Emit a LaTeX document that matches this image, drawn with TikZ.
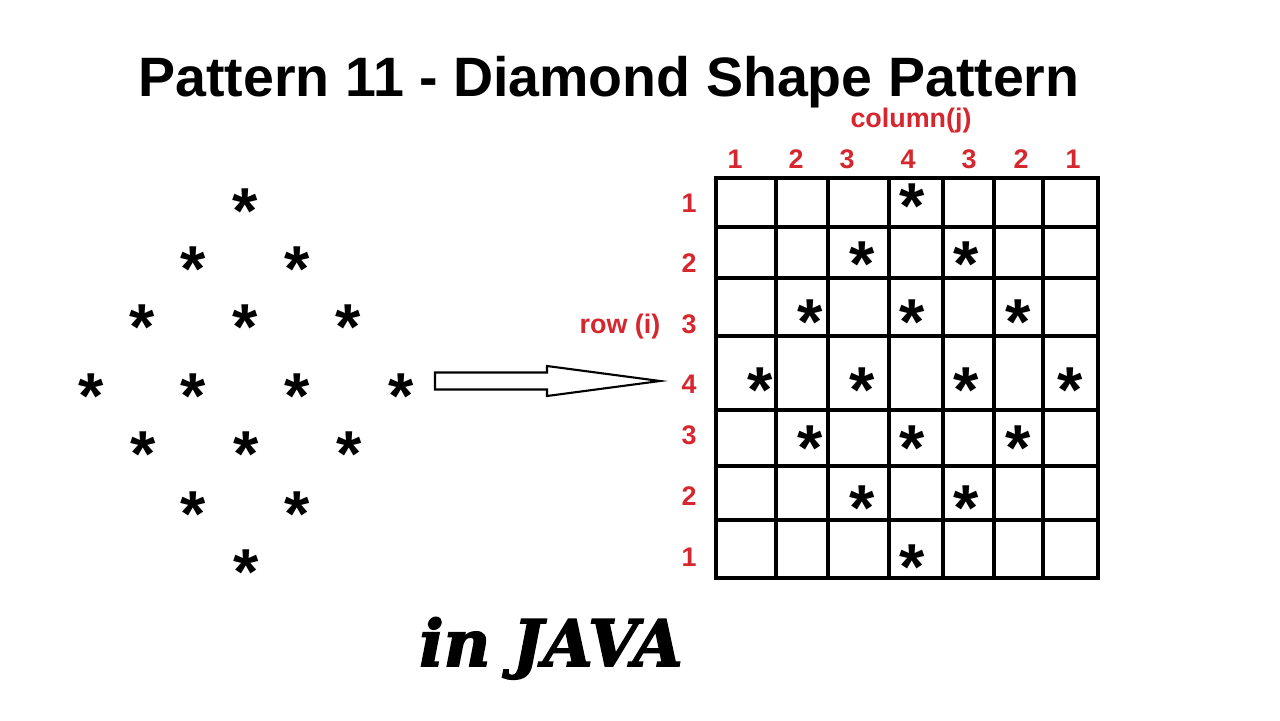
\documentclass[tikz,border=0pt]{standalone}
\usepackage{fontspec}
\setmainfont{Liberation Sans}
\newfontfamily\javafont[FakeBold=2.5]{DejaVu Serif}
\usetikzlibrary{calc}
\definecolor{lblred}{RGB}{214,38,46}
\tikzset{
  lbl/.style={text=lblred,font=\bfseries\fontsize{15.3}{16}\selectfont,anchor=base,inner sep=0pt},
  astk/.style={font=\bfseries\fontsize{37}{37}\selectfont,inner sep=0pt,anchor=north,yshift=7.5pt},
  gridline/.style={line width=2pt}
}

\begin{document}
\begin{tikzpicture}[x=0.02cm,y=-0.02cm]
      \useasboundingbox[fill=white] (0,0) rectangle (1280,720);

      \node[anchor=base,inner sep=0pt,font=\bfseries\fontsize{31.6}{32}\selectfont] (title) at (609,96) {Pattern 11 - Diamond Shape Pattern};

      % diamond
      \node[astk] (d11) at (245,202) {*};
      \node[astk] (d21) at (193,260) {*};
      \node[astk] (d22) at (297,260) {*};
      \node[astk] (d31) at (142,318) {*};
      \node[astk] (d32) at (245,318) {*};
      \node[astk] (d33) at (348,318) {*};
      \node[astk] (d41) at (91,387) {*};
      \node[astk] (d42) at (193,387) {*};
      \node[astk] (d43) at (297,387) {*};
      \node[astk] (d44) at (401,387) {*};
      \node[astk] (d51) at (143,445) {*};
      \node[astk] (d52) at (246,445) {*};
      \node[astk] (d53) at (349,445) {*};
      \node[astk] (d61) at (193,505) {*};
      \node[astk] (d62) at (297,505) {*};
      \node[astk] (d71) at (246,563) {*};

      % arrow
      \coordinate (tail) at (435,381);
      \coordinate (tip) at (660,381);
      \draw[line width=1.2pt,line join=miter] (tail) ++(0,-8.5) -- ++(112,0) -- ++(0,-6.5) -- (tip)
        -- ++(-113,15) -- ++(0,-6.5) -- ++(-112,0) -- cycle;

      % labels
      \node[lbl] (colj) at (911,127) {column(j)};
      \node[lbl] (c1) at (735,168) {1};
      \node[lbl] (c2) at (796,168) {2};
      \node[lbl] (c3) at (847,168) {3};
      \node[lbl] (c4) at (908,168) {4};
      \node[lbl] (c5) at (969,168) {3};
      \node[lbl] (c6) at (1021,168) {2};
      \node[lbl] (c7) at (1073,168) {1};
      \node[lbl] (rowi) at (620,333) {row (i)};
      \node[lbl] (r1) at (689,212) {1};
      \node[lbl] (r2) at (689,272) {2};
      \node[lbl] (r3) at (689,333) {3};
      \node[lbl] (r4) at (689,393) {4};
      \node[lbl] (r5) at (689,444) {3};
      \node[lbl] (r6) at (689,505) {2};
      \node[lbl] (r7) at (689,566) {1};

      % grid
      \draw[gridline] (716,178) rectangle (1098,578);
      \draw[gridline] (776,178) -- (776,578);
      \draw[gridline] (828,178) -- (828,578);
      \draw[gridline] (889,178) -- (889,578);
      \draw[gridline] (943,178) -- (943,578);
      \draw[gridline] (994,178) -- (994,578);
      \draw[gridline] (1043,178) -- (1043,578);
      \draw[gridline] (716,227) -- (1098,227);
      \draw[gridline] (716,278) -- (1098,278);
      \draw[gridline] (716,336) -- (1098,336);
      \draw[gridline] (716,410) -- (1098,410);
      \draw[gridline] (716,466) -- (1098,466);
      \draw[gridline] (716,520) -- (1098,520);

      \node[astk] (g14) at (912,197) {*};
      \node[astk] (g23) at (862,255) {*};
      \node[astk] (g25) at (966,255) {*};
      \node[astk] (g32) at (810,313) {*};
      \node[astk] (g34) at (912,313) {*};
      \node[astk] (g36) at (1018,313) {*};
      \node[astk] (g41) at (760,381) {*};
      \node[astk] (g43) at (862,381) {*};
      \node[astk] (g45) at (966,381) {*};
      \node[astk] (g47) at (1070,381) {*};
      \node[astk] (g52) at (810,439) {*};
      \node[astk] (g54) at (912,439) {*};
      \node[astk] (g56) at (1018,439) {*};
      \node[astk] (g63) at (862,499) {*};
      \node[astk] (g65) at (966,499) {*};
      \node[astk] (g74) at (912,558) {*};

      \node[anchor=base,inner sep=0pt,font=\javafont\bfseries\itshape\fontsize{36.5}{37}\selectfont] (java) at (551,666) {in JAVA};
    \end{tikzpicture}
\end{document}
